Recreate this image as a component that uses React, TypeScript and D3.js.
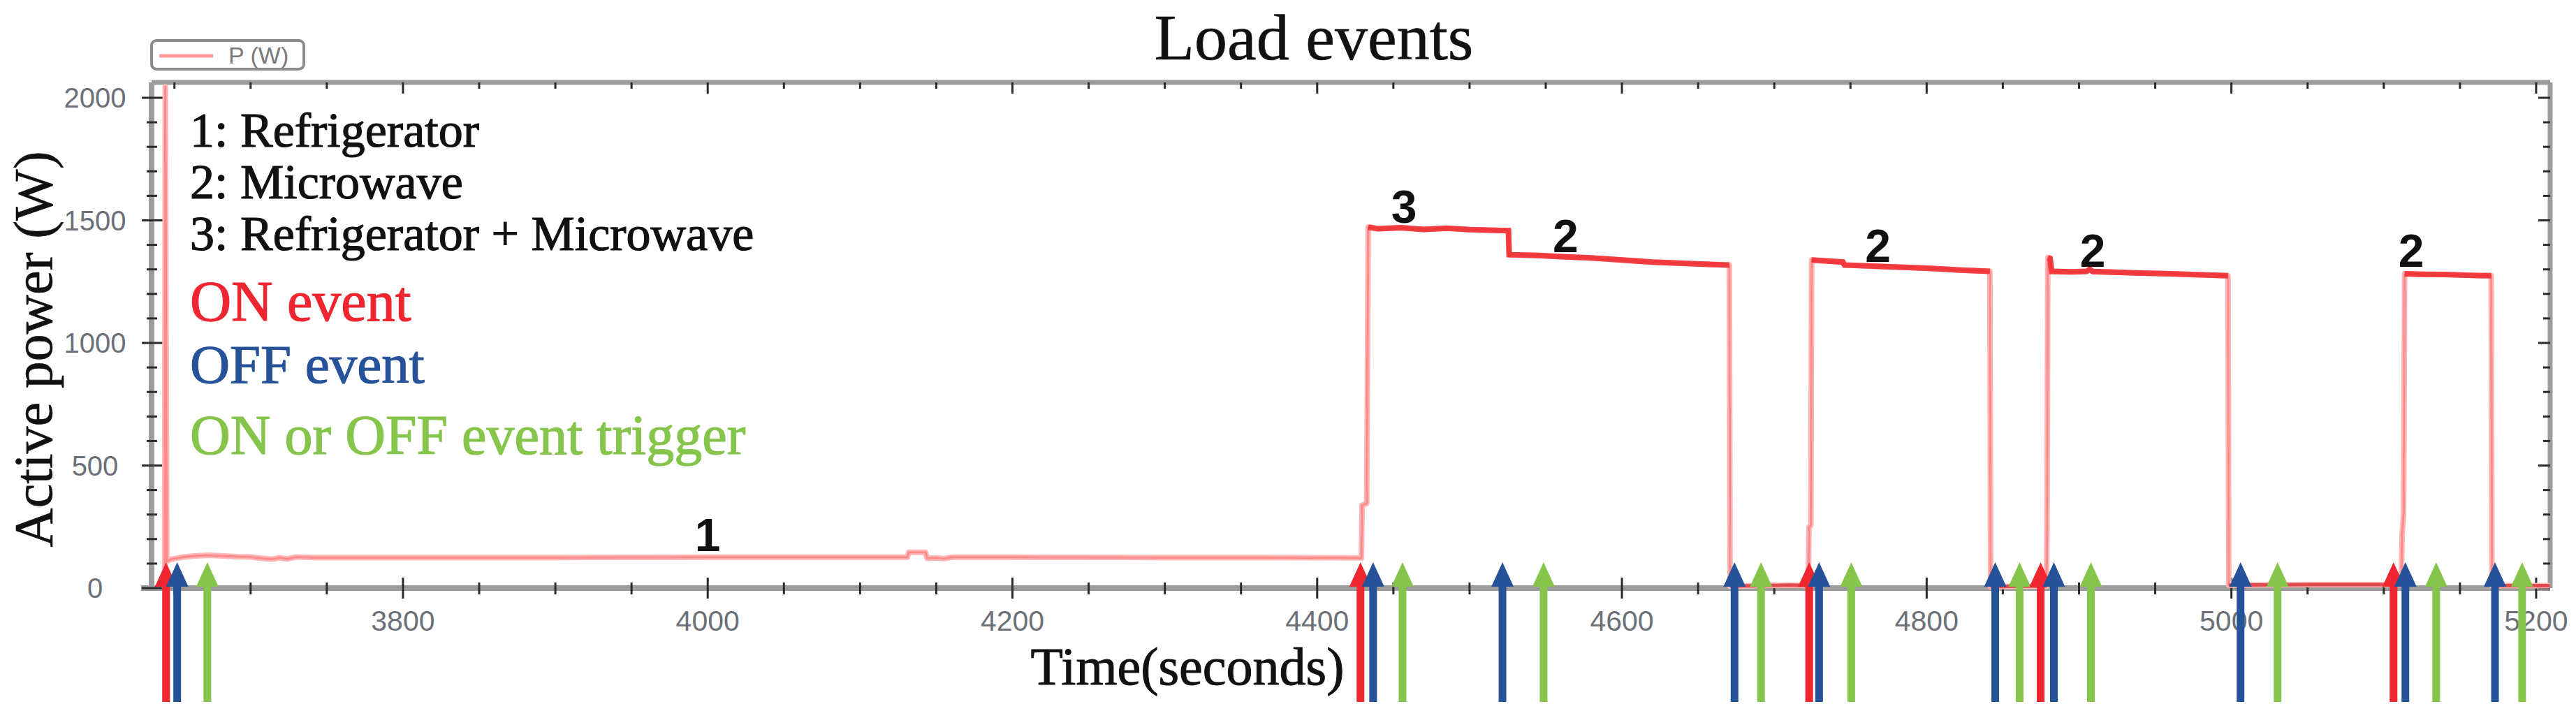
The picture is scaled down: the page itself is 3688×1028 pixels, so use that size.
import React from "react";
import * as d3 from "d3";

// ---------- data ----------
const powerTime = [3643.6, 3644, 3645, 3648, 3655, 3663, 3672, 3682, 3692, 3700, 3708, 3714, 3719, 3724, 3730, 3740, 3800, 3900, 4000, 4100, 4131, 4132, 4143, 4144, 4150, 4155, 4160, 4200, 4300, 4400, 4429, 4429.5, 4432.5, 4433.5, 4440, 4455, 4470, 4485, 4500, 4512, 4525.5, 4526, 4545, 4560, 4580, 4600, 4620, 4640, 4660, 4670.5, 4671, 4690, 4710, 4722.3, 4722.8, 4724, 4724.5, 4735, 4745, 4746, 4770, 4800, 4820, 4841.5, 4842, 4860, 4878.6, 4879, 4879.5, 4881, 4882, 4895, 4905, 4907, 4909, 4930, 4960, 4980, 4997.8, 4998.3, 5050, 5111.5, 5112, 5113, 5113.7, 5125, 5140, 5155, 5170.5, 5171, 5190, 5209];
const powerWatt = [0, 2045, 108, 118, 126, 131, 134, 131, 128, 127, 121, 118, 124, 119, 127, 125, 125, 125, 126, 126, 126, 146, 146, 121, 123, 120, 126, 126, 125, 124, 123, 338, 345, 1472, 1466, 1470, 1463, 1468, 1462, 1460, 1458, 1360, 1357, 1352, 1347, 1338, 1330, 1325, 1320, 1318, 8, 10, 12, 10, 250, 255, 1338, 1334, 1330, 1318, 1312, 1305, 1298, 1292, 6, 8, 8, 245, 1348, 1345, 1292, 1290, 1292, 1300, 1291, 1287, 1282, 1278, 1274, 12, 14, 14, 214, 300, 1282, 1280, 1279, 1276, 1274, 10, 10, 10];

const onEvents = [3644.5, 4428.4, 4722.9, 4874.8, 5106.4];
const offEvents = [3651.8, 4436.7, 4521.6, 4673.9, 4729.4, 4845, 4883.5, 5006, 5114.2, 5173];
const triggerEvents = [3671.6, 4456, 4548.6, 4691.3, 4750.5, 4861, 4907.8, 5030.3, 5134.4, 5190.8];

const loadLabels = ["1", "3", "2", "2", "2", "2"];
const loadLabelTime = [4000, 4457, 4563, 4768, 4909, 5118];
const loadLabelWatt = [140, 1480, 1360, 1318, 1300, 1300];

const xTickLabels = [3800, 4000, 4200, 4400, 4600, 4800, 5000, 5200];
const yTickLabels = [0, 500, 1000, 1500, 2000];

const noteLines = [
  "1: Refrigerator",
  "2: Microwave",
  "3: Refrigerator + Microwave",
];
const eventLines = ["ON event", "OFF event", "ON or OFF event trigger"];

// ---------- layout ----------
const W = 3688;
const H = 1028;
const left = 217;
const right = 3651;
const top = 118;
const bottom = 842;

const RED = "#ef2530";
const BLUE = "#26529a";
const GREEN = "#85c54b";
const AXIS = "#9c9c9c";
const TICKTXT = "#6c7078";

const x = d3.scaleLinear().domain([3635, 5209.2]).range([left, right]);
const y = d3.scaleLinear().domain([0, 2000]).range([bottom, 140]);

type P = { t: number; w: number };
const pts: P[] = powerTime.map((t, i) => ({ t, w: powerWatt[i] }));
const line = d3
  .line<P>()
  .x((d) => x(d.t))
  .y((d) => y(d.w));
const bandLine = d3
  .line<P>()
  .defined((d) => d.w > 1000)
  .x((d) => x(d.t))
  .y((d) => y(d.w));
const lowLine = d3
  .line<P>()
  .defined((d) => d.w < 30 && d.t > 4600)
  .x((d) => x(d.t))
  .y((d) => y(d.w));

const minorX = d3.range(3650, 5201, 50);
const minorY = d3.range(0, 2001, 100);

function arrowPath(cx: number) {
  const tip = 805;
  const base = 840;
  const end = 1005;
  const sw = 5.5;
  const hw = 16;
  return `M${cx - sw},${end}L${cx - sw},${base}L${cx - hw},${base}L${cx},${tip}L${cx + hw},${base}L${cx + sw},${base}L${cx + sw},${end}Z`;
}

export default function App() {
  const arrows = [
    ...onEvents.map((t) => ({ t, c: RED })),
    ...offEvents.map((t) => ({ t, c: BLUE })),
    ...triggerEvents.map((t) => ({ t, c: GREEN })),
  ].sort((a, b) => a.t - b.t);

  return (
    <svg
      width={W}
      height={H}
      style={{ position: "absolute", left: 0, top: 0, background: "#fff" }}
    >
      <rect x={0} y={0} width={W} height={H} fill="#fff" />
      {/* title */}
      <text
        x={1881}
        y={85}
        textAnchor="middle"
        fontFamily="Liberation Serif"
        fontSize={94}
        fill="#111"
        stroke="#111"
        strokeWidth={0.6}
      >
        Load events
      </text>

      {/* legend box */}
      <rect x={217} y={58} width={218} height={41} rx={7} fill="#fff" stroke="#8c8c8c" strokeWidth={4} />
      <line x1={228} x2={305} y1={80} y2={80} stroke="#ff9a9a" strokeWidth={5} />
      <text x={327} y={91} fontFamily="Liberation Sans" fontSize={34} fill="#7a7a7a">
        P (W)
      </text>

      {/* frame */}
      <line x1={left} x2={right} y1={top} y2={top} stroke={AXIS} strokeWidth={7} />
      <line x1={right} x2={right} y1={top} y2={bottom} stroke={AXIS} strokeWidth={7} />
      <line x1={left} x2={left} y1={top} y2={bottom + 4} stroke={AXIS} strokeWidth={8} />
      <line x1={202} x2={right} y1={bottom} y2={bottom} stroke={AXIS} strokeWidth={8} />

      {/* x ticks */}
      {minorX.map((t) => {
        const major = t % 200 === 0;
        return (
          <g key={"xt" + t}>
            <line x1={x(t)} x2={x(t)} y1={major ? 827 : 834} y2={major ? 857 : 851} stroke="#2a2a2a" strokeWidth={3} />
            <line x1={x(t)} x2={x(t)} y1={top} y2={top + (major ? 16 : 9)} stroke="#2a2a2a" strokeWidth={3} />
          </g>
        );
      })}
      {/* y ticks */}
      {minorY.map((v) => {
        const major = v % 500 === 0;
        return (
          <g key={"yt" + v}>
            <line x1={major ? 203 : 210} x2={major ? 233 : 225} y1={y(v)} y2={y(v)} stroke="#2a2a2a" strokeWidth={3} />
            <line x1={right - (major ? 17 : 10)} x2={right} y1={y(v)} y2={y(v)} stroke="#2a2a2a" strokeWidth={3} />
          </g>
        );
      })}

      {/* tick labels */}
      {xTickLabels.map((t) => (
        <text key={"xl" + t} x={x(t)} y={903} textAnchor="middle" fontFamily="Liberation Sans" fontSize={41} fill={TICKTXT}>
          {t}
        </text>
      ))}
      {yTickLabels.map((v) => (
        <text key={"yl" + v} x={136} y={y(v) + 14} textAnchor="middle" fontFamily="Liberation Sans" fontSize={40} fill={TICKTXT}>
          {v}
        </text>
      ))}

      {/* axis titles */}
      <text x={1700} y={980} textAnchor="middle" fontFamily="Liberation Serif" fontSize={76} fill="#111" stroke="#111" strokeWidth={1}>
        Time(seconds)
      </text>
      <text
        transform="translate(74,500) rotate(-90)"
        textAnchor="middle"
        fontFamily="Liberation Serif"
        fontSize={78}
        fill="#111"
        stroke="#111"
        strokeWidth={0.6}
      >
        Active power (W)
      </text>

      {/* power line */}
      <path d={line(pts) || ""} fill="none" stroke="#ffb6b6" strokeWidth={8} strokeLinejoin="round" />
      <path d={line(pts) || ""} fill="none" stroke="#ff8a8a" strokeWidth={3} strokeLinejoin="round" />
      <path d={bandLine(pts) || ""} fill="none" stroke="#f0282e" strokeWidth={8} strokeOpacity={0.85} />
      <path d={lowLine(pts) || ""} fill="none" stroke="#d8383e" strokeWidth={5} strokeOpacity={0.8} />

      {/* annotations */}
      {noteLines.map((s, i) => (
        <text key={"n" + i} x={272} y={210 + i * 74} fontFamily="Liberation Serif" fontSize={70} fill="#111" stroke="#111" strokeWidth={1.2}>
          {s}
        </text>
      ))}
      {eventLines.map((s, i) => (
        <text
          key={"e" + i}
          x={272}
          y={[459, 548, 650][i]}
          fontFamily="Liberation Serif"
          fontSize={[82, 79, 80][i]}
          fill={[RED, BLUE, GREEN][i]}
          stroke={[RED, BLUE, GREEN][i]}
          strokeWidth={1.2}
        >
          {s}
        </text>
      ))}

      {/* load labels */}
      {loadLabels.map((s, i) => (
        <text
          key={"l" + i}
          x={x(loadLabelTime[i])}
          y={y(loadLabelWatt[i]) - 4}
          textAnchor="middle"
          fontFamily="Liberation Sans"
          fontWeight="bold"
          fontSize={66}
          fill="#111"
        >
          {s}
        </text>
      ))}

      {/* event arrows */}
      {arrows.map((a, i) => (
        <path key={"a" + i} d={arrowPath(x(a.t))} fill={a.c} />
      ))}
    </svg>
  );
}
